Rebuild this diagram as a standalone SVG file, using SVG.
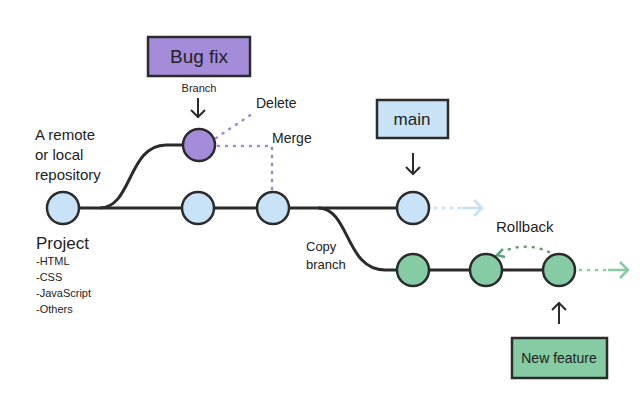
<svg xmlns="http://www.w3.org/2000/svg" width="640" height="405" viewBox="0 0 640 405">
<style>
text{font-family:"Liberation Sans",Arial,sans-serif;fill:#222}
.ln{fill:none;stroke:#2b2b2b;stroke-width:3}
.n{stroke:#2b2b2b;stroke-width:2.5}
.b{fill:#c8e3f7}.p{fill:#a58cdb}.g{fill:#85cba3}
.ar{fill:none;stroke:#2b2b2b;stroke-width:2}
.dot{fill:none;stroke-width:2.5;stroke-dasharray:1 7;stroke-linecap:round}
</style>
<rect width="640" height="405" fill="#fff"/>
<g id="connectors">
<path class="ln" d="M63 208 H413"/>
<path class="ln" d="M100 208 C132 208 128 145 166 145 H199"/>
<path class="ln" d="M318 208 C350 208 345 270 385 270 H559"/>
<path class="dot" stroke="#9b86dc" d="M216 138 L252 114"/>
<path class="dot" stroke="#9b86dc" d="M218 146 H272 V192"/>
<path class="dot" stroke="#c3e0f5" d="M435 208 H470"/>
<path fill="none" stroke="#c3e0f5" stroke-width="2.5" d="M462 208 H482 M474 200 L482 208 L474 216"/>
<path class="dot" stroke="#85cba3" d="M580 270 H612"/>
<path fill="none" stroke="#85cba3" stroke-width="2.5" d="M608 270 H628 M620 262 L628 270 L620 278"/>
<path class="dot" stroke="#5f9f7d" d="M549 252 C535 245 515 245 503 252"/>
<path fill="none" stroke="#5f9f7d" stroke-width="2.5" d="M503 249 L497 255 L505 257"/>
<path class="ar" d="M198 98 V117 M191 110 L198 117 L205 110"/>
<path class="ar" d="M413 153 V174 M406 167 L413 174 L420 167"/>
<path class="ar" d="M559 324 V303 M552 310 L559 303 L566 310"/>
</g>
<g id="project"><circle class="n b" cx="63" cy="208" r="16"/></g>
<g id="c2"><circle class="n b" cx="198" cy="208" r="16"/></g>
<g id="c3"><circle class="n b" cx="273" cy="208" r="16"/></g>
<g id="c4"><circle class="n b" cx="413" cy="208" r="16"/></g>
<g id="bug"><circle class="n p" cx="199" cy="145" r="16"/></g>
<g id="g1"><circle class="n g" cx="413" cy="270" r="16"/></g>
<g id="g2"><circle class="n g" cx="486" cy="270" r="16"/></g>
<g id="g3"><circle class="n g" cx="559" cy="270" r="16"/></g>
<g id="bugfix"><rect x="148" y="37" width="102" height="39" class="n p" stroke-width="2"/><text x="199" y="63" font-size="19" text-anchor="middle">Bug fix</text></g>
<g id="main"><rect x="377" y="100" width="71" height="38" class="n b" stroke-width="2"/><text x="412" y="125" font-size="17" text-anchor="middle">main</text></g>
<g id="newfeature"><rect x="512" y="338" width="95" height="40" class="n g" stroke-width="2"/><text x="559" y="363" font-size="14" text-anchor="middle">New feature</text></g>
<g id="labels">
<text x="199" y="92" font-size="11" text-anchor="middle">Branch</text>
<text x="256" y="108" font-size="14">Delete</text>
<text x="272" y="143" font-size="14">Merge</text>
<text font-size="15"><tspan x="35" y="140">A remote</tspan><tspan x="35" y="160">or local</tspan><tspan x="35" y="180">repository</tspan></text>
<text x="36" y="249" font-size="17">Project</text>
<text font-size="11"><tspan x="36" y="265">-HTML</tspan><tspan x="36" y="281">-CSS</tspan><tspan x="36" y="297">-JavaScript</tspan><tspan x="36" y="313">-Others</tspan></text>
<text font-size="13"><tspan x="306" y="251">Copy</tspan><tspan x="306" y="269">branch</tspan></text>
<text x="496" y="232" font-size="15">Rollback</text>
</g>
</svg>
